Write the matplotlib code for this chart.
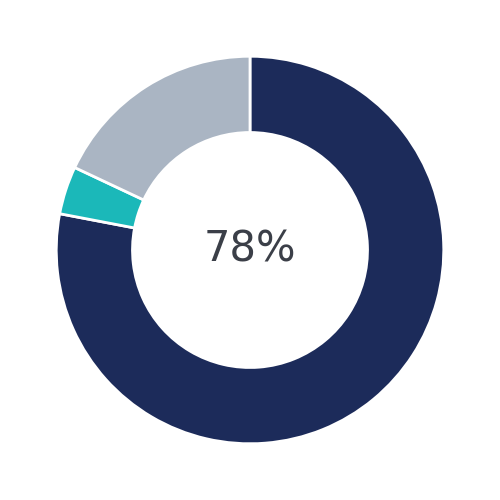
import matplotlib.pyplot as plt

labels = ["Primary", "Secondary", "Other"]
values = [78, 4, 18]
colors = ["#1c2b5a", "#1bb8b9", "#aab5c3"]
center_label = "78%"

fig, ax = plt.subplots(figsize=(5, 5), dpi=100)
fig.subplots_adjust(0, 0, 1, 1)
ax.pie(
    values,
    colors=colors,
    startangle=90,
    counterclock=False,
    radius=0.775,
    wedgeprops=dict(width=0.305, edgecolor="white", linewidth=2),
)
ax.text(0, 0, center_label, ha="center", va="center", fontsize=30, color="#3b3f48")
ax.set_xlim(-1, 1)
ax.set_ylim(-1, 1)
ax.set_aspect("equal")
ax.axis("off")
fig.savefig("out.png", dpi=100)
